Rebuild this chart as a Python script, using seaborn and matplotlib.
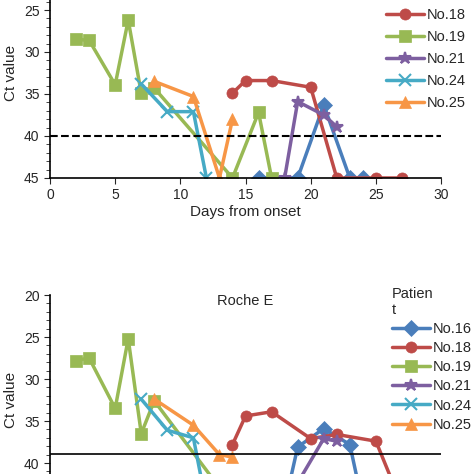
import matplotlib
matplotlib.use("Agg")
import matplotlib.pyplot as plt
import seaborn as sns
import pandas as pd
from matplotlib.ticker import MultipleLocator

sns.set_style("white")
plt.rcParams['font.family'] = ['Liberation Sans', 'DejaVu Sans']

patients = ["No.16", "No.18", "No.19", "No.21", "No.24", "No.25"]
colors = ["#4a7ebb", "#be4b48", "#98b954", "#7d5fa0", "#46aac5", "#f79646"]
markers = ["D", "o", "s", "*", "x", "^"]

# top panel
top_days = {
    "No.16": [16, 19, 21, 23, 24],
    "No.18": [14, 15, 17, 20, 22, 25, 27],
    "No.19": [2, 3, 5, 6, 7, 8, 14, 16, 17],
    "No.21": [18, 19, 21, 22],
    "No.24": [7, 9, 11, 12],
    "No.25": [8, 11, 13, 14],
}
top_ct = {
    "No.16": [45, 45, 36.3, 45, 45],
    "No.18": [34.9, 33.4, 33.4, 34.2, 45, 45, 45],
    "No.19": [28.5, 28.6, 33.9, 26.2, 34.9, 34.3, 45, 37.2, 45],
    "No.21": [45, 35.9, 37.5, 38.9],
    "No.24": [33.8, 37.1, 37.1, 45],
    "No.25": [33.5, 35.3, 45, 38.0],
}
# bottom panel (Roche E)
bot_days = {
    "No.16": [18, 19, 21, 23, 24],
    "No.18": [14, 15, 17, 20, 22, 25, 27],
    "No.19": [2, 3, 5, 6, 7, 8, 14],
    "No.21": [18, 21, 22],
    "No.24": [7, 9, 11, 12],
    "No.25": [8, 11, 13, 14],
}
bot_ct = {
    "No.16": [45, 38.1, 35.9, 37.8, 45],
    "No.18": [37.8, 34.4, 33.9, 37.1, 36.6, 37.4, 45],
    "No.19": [27.8, 27.5, 33.5, 25.2, 36.5, 32.6, 45],
    "No.21": [45, 37.1, 37.4],
    "No.24": [32.4, 36.1, 37.0, 45],
    "No.25": [32.4, 35.5, 39.0, 39.3],
}

def frame(days, ct):
    rows = []
    for p in patients:
        for d, c in zip(days[p], ct[p]):
            rows.append({"Patient": p, "Day": d, "Ct": c})
    return pd.DataFrame(rows)

fig = plt.figure(figsize=(4.74, 4.74), dpi=100)
ax1 = fig.add_axes([0.1055, 0.6245, 0.825, 0.443])
ax2 = fig.add_axes([0.1055, -0.0654, 0.825, 0.443])

def draw(ax, df, hl_style):
    for p, c, m in zip(patients, colors, markers):
        sub = df[df.Patient == p]
        ms = 9 if m in "*x" else 8
        sns.lineplot(data=sub, x="Day", y="Ct", ax=ax, color=c, marker=m,
                     markersize=ms, linewidth=2.5, label=p, markeredgewidth=1.5 if m in "*x" else 0.5,
                     markeredgecolor=c, legend=False, estimator=None, sort=False)
    ax.set_xlim(0, 30)
    ax.set_ylim(45, 20)
    ax.xaxis.set_major_locator(MultipleLocator(5))
    ax.yaxis.set_major_locator(MultipleLocator(5))
    ax.yaxis.set_minor_locator(MultipleLocator(1))
    ax.tick_params(axis="both", which="both", direction="out", left=True, bottom=True, labelsize=10)
    ax.tick_params(axis="y", which="minor", length=3)
    ax.tick_params(axis="both", which="major", length=4)
    for s in ["top", "right"]:
        ax.spines[s].set_visible(False)
    for s in ["left", "bottom"]:
        ax.spines[s].set_color("black")
        ax.spines[s].set_linewidth(1.2)
    ax.set_ylabel("Ct value", fontsize=11)

draw(ax1, frame(top_days, top_ct), None)
ax1.axhline(40, color="black", linestyle="--", linewidth=1.5)
ax1.set_xlabel("Days from onset", fontsize=11, labelpad=2)
h, l = ax1.get_legend_handles_labels()
ax1.legend(h[1:], l[1:], loc="upper left", bbox_to_anchor=(380 / 474, 1 - 2 / 474),
           bbox_transform=fig.transFigure, frameon=False, fontsize=10.5,
           handlelength=2.6, labelspacing=0.55, handletextpad=0.2, borderaxespad=0)

draw(ax2, frame(bot_days, bot_ct), None)
ax2.axhline(38.9, color="black", linewidth=1.2, xmax=1.0)
ax2.set_xlabel("")
ax2.text(15, 21.5, "Roche E", ha="center", va="bottom", fontsize=10.5)
h, l = ax2.get_legend_handles_labels()
leg = ax2.legend(h, l, title="Patien\nt", loc="upper left", bbox_to_anchor=(386 / 474, 1 - 281 / 474),
                 bbox_transform=fig.transFigure, frameon=False, fontsize=10.5, title_fontsize=10.5,
                 handlelength=2.6, labelspacing=0.35, handletextpad=0.2, borderaxespad=0)
leg._legend_box.align = "left"

fig.savefig("out.png", dpi=100)
